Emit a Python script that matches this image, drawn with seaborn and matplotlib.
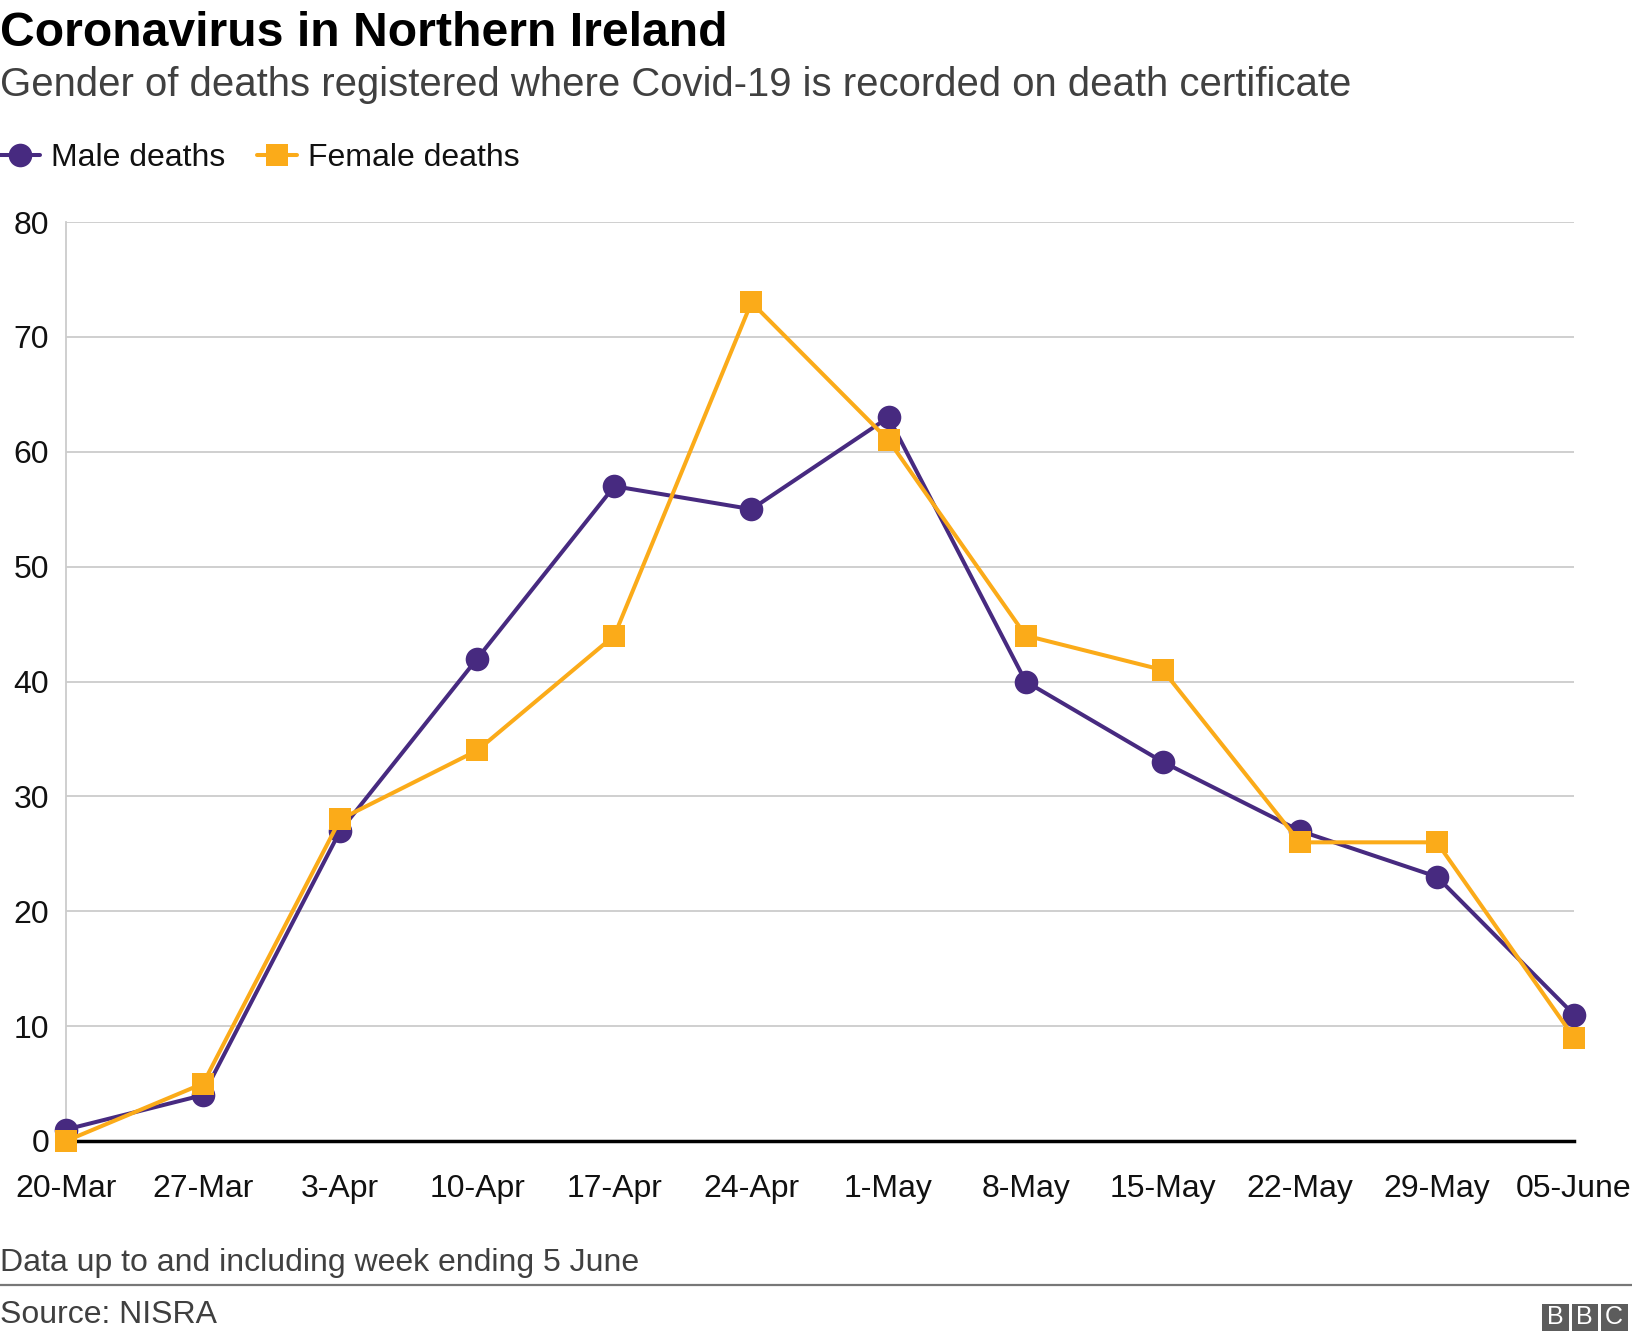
import matplotlib
matplotlib.use("Agg")
import matplotlib.pyplot as plt
import seaborn as sns
import pandas as pd
from matplotlib.patches import Rectangle
from matplotlib.lines import Line2D

weeks = ["20-Mar", "27-Mar", "3-Apr", "10-Apr", "17-Apr", "24-Apr", "1-May",
         "8-May", "15-May", "22-May", "29-May", "05-June"]
male_deaths = [1, 4, 27, 42, 57, 55, 63, 40, 33, 27, 23, 11]
female_deaths = [0, 5, 28, 34, 44, 73, 61, 44, 41, 26, 26, 9]
y_ticks = [0, 10, 20, 30, 40, 50, 60, 70, 80]

sns.set_theme(style="white")
plt.rcParams['font.family'] = ['Liberation Sans', 'DejaVu Sans']

PURPLE = "#472a80"
ORANGE = "#fbab19"

W, H = 1632, 1340
fig = plt.figure(figsize=(W / 100, H / 100), dpi=100)
ax = fig.add_axes([66 / W, 1 - 1141 / H, (1574 - 66) / W, (1141 - 222) / H])

df = pd.DataFrame({"x": list(range(len(weeks))) * 2,
                   "deaths": male_deaths + female_deaths,
                   "series": ["Male deaths"] * len(weeks) + ["Female deaths"] * len(weeks)})

LW = 2.9
sns.lineplot(data=df[df.series == "Male deaths"], x="x", y="deaths", ax=ax,
             color=PURPLE, lw=LW, marker="o", markersize=17, markeredgewidth=0,
             clip_on=False, zorder=4, legend=False)
sns.lineplot(data=df[df.series == "Female deaths"], x="x", y="deaths", ax=ax,
             color=ORANGE, lw=LW, marker="s", markersize=16.5, markeredgewidth=0,
             clip_on=False, zorder=5, legend=False)

ax.set_xlim(0, len(weeks) - 1)
ax.set_ylim(0, 80)
ax.set_yticks(y_ticks)
ax.set_xticks(range(len(weeks)))
ax.set_xticklabels(weeks)
ax.set_xlabel("")
ax.set_ylabel("")
ax.grid(axis="y", color="#cccccc", lw=1.3)
ax.grid(axis="x", visible=False)
for s in ["top", "right"]:
    ax.spines[s].set_visible(False)
ax.spines["left"].set_color("#cccccc")
ax.spines["left"].set_linewidth(1.3)
ax.spines["bottom"].set_color("black")
ax.spines["bottom"].set_linewidth(2.5)
ax.spines["bottom"].set_zorder(3)
ax.tick_params(axis="both", length=0, labelsize=23, labelcolor="#111111")
ax.tick_params(axis="x", pad=24)
ax.tick_params(axis="y", pad=12)

# Titles
fig.text(0 / W, 1 - 34 / H, "Coronavirus in Northern Ireland", fontsize=34.7,
         fontweight="bold", va="center", ha="left", color="#000000")
fig.text(0 / W, 1 - 85 / H, "Gender of deaths registered where Covid-19 is recorded on death certificate",
         fontsize=28.9, va="center", ha="left", color="#404040")

# Legend
handles = [Line2D([], [], color=PURPLE, lw=LW, marker="o", markersize=17, markeredgewidth=0),
           Line2D([], [], color=ORANGE, lw=LW, marker="s", markersize=16.5, markeredgewidth=0)]
fig.legend(handles, ["Male deaths", "Female deaths"], loc="center left",
           bbox_to_anchor=(0.0, 1 - 158 / H), ncol=2, frameon=False, fontsize=23,
           labelcolor="#111111", borderpad=0,
           handlelength=1.25, handletextpad=0.35, columnspacing=1.0, borderaxespad=0)

# Footer
fig.text(0 / W, 1 - 1263 / H, "Data up to and including week ending 5 June", fontsize=23,
         va="center", ha="left", color="#404040")
fig.add_artist(Line2D([0, 1], [1 - 1285 / H, 1 - 1285 / H], color="#777777", lw=1.6,
                      transform=fig.transFigure))
fig.text(0 / W, 1 - 1315 / H, "Source: NISRA", fontsize=23,
         va="center", ha="left", color="#404040")

# BBC logo
bx0, by0, bs, gap = 1542, 1304, 26.5, 3
for i, letter in enumerate("BBC"):
    x0 = bx0 + i * (bs + gap)
    fig.add_artist(Rectangle((x0 / W, 1 - (by0 + bs) / H), bs / W, bs / H,
                             transform=fig.transFigure, color="#5c5c5c", lw=0))
    fig.text((x0 + bs / 2) / W, 1 - (by0 + bs / 2) / H, letter, fontsize=18,
             color="white", ha="center", va="center")

fig.savefig("out.png", dpi=100)
